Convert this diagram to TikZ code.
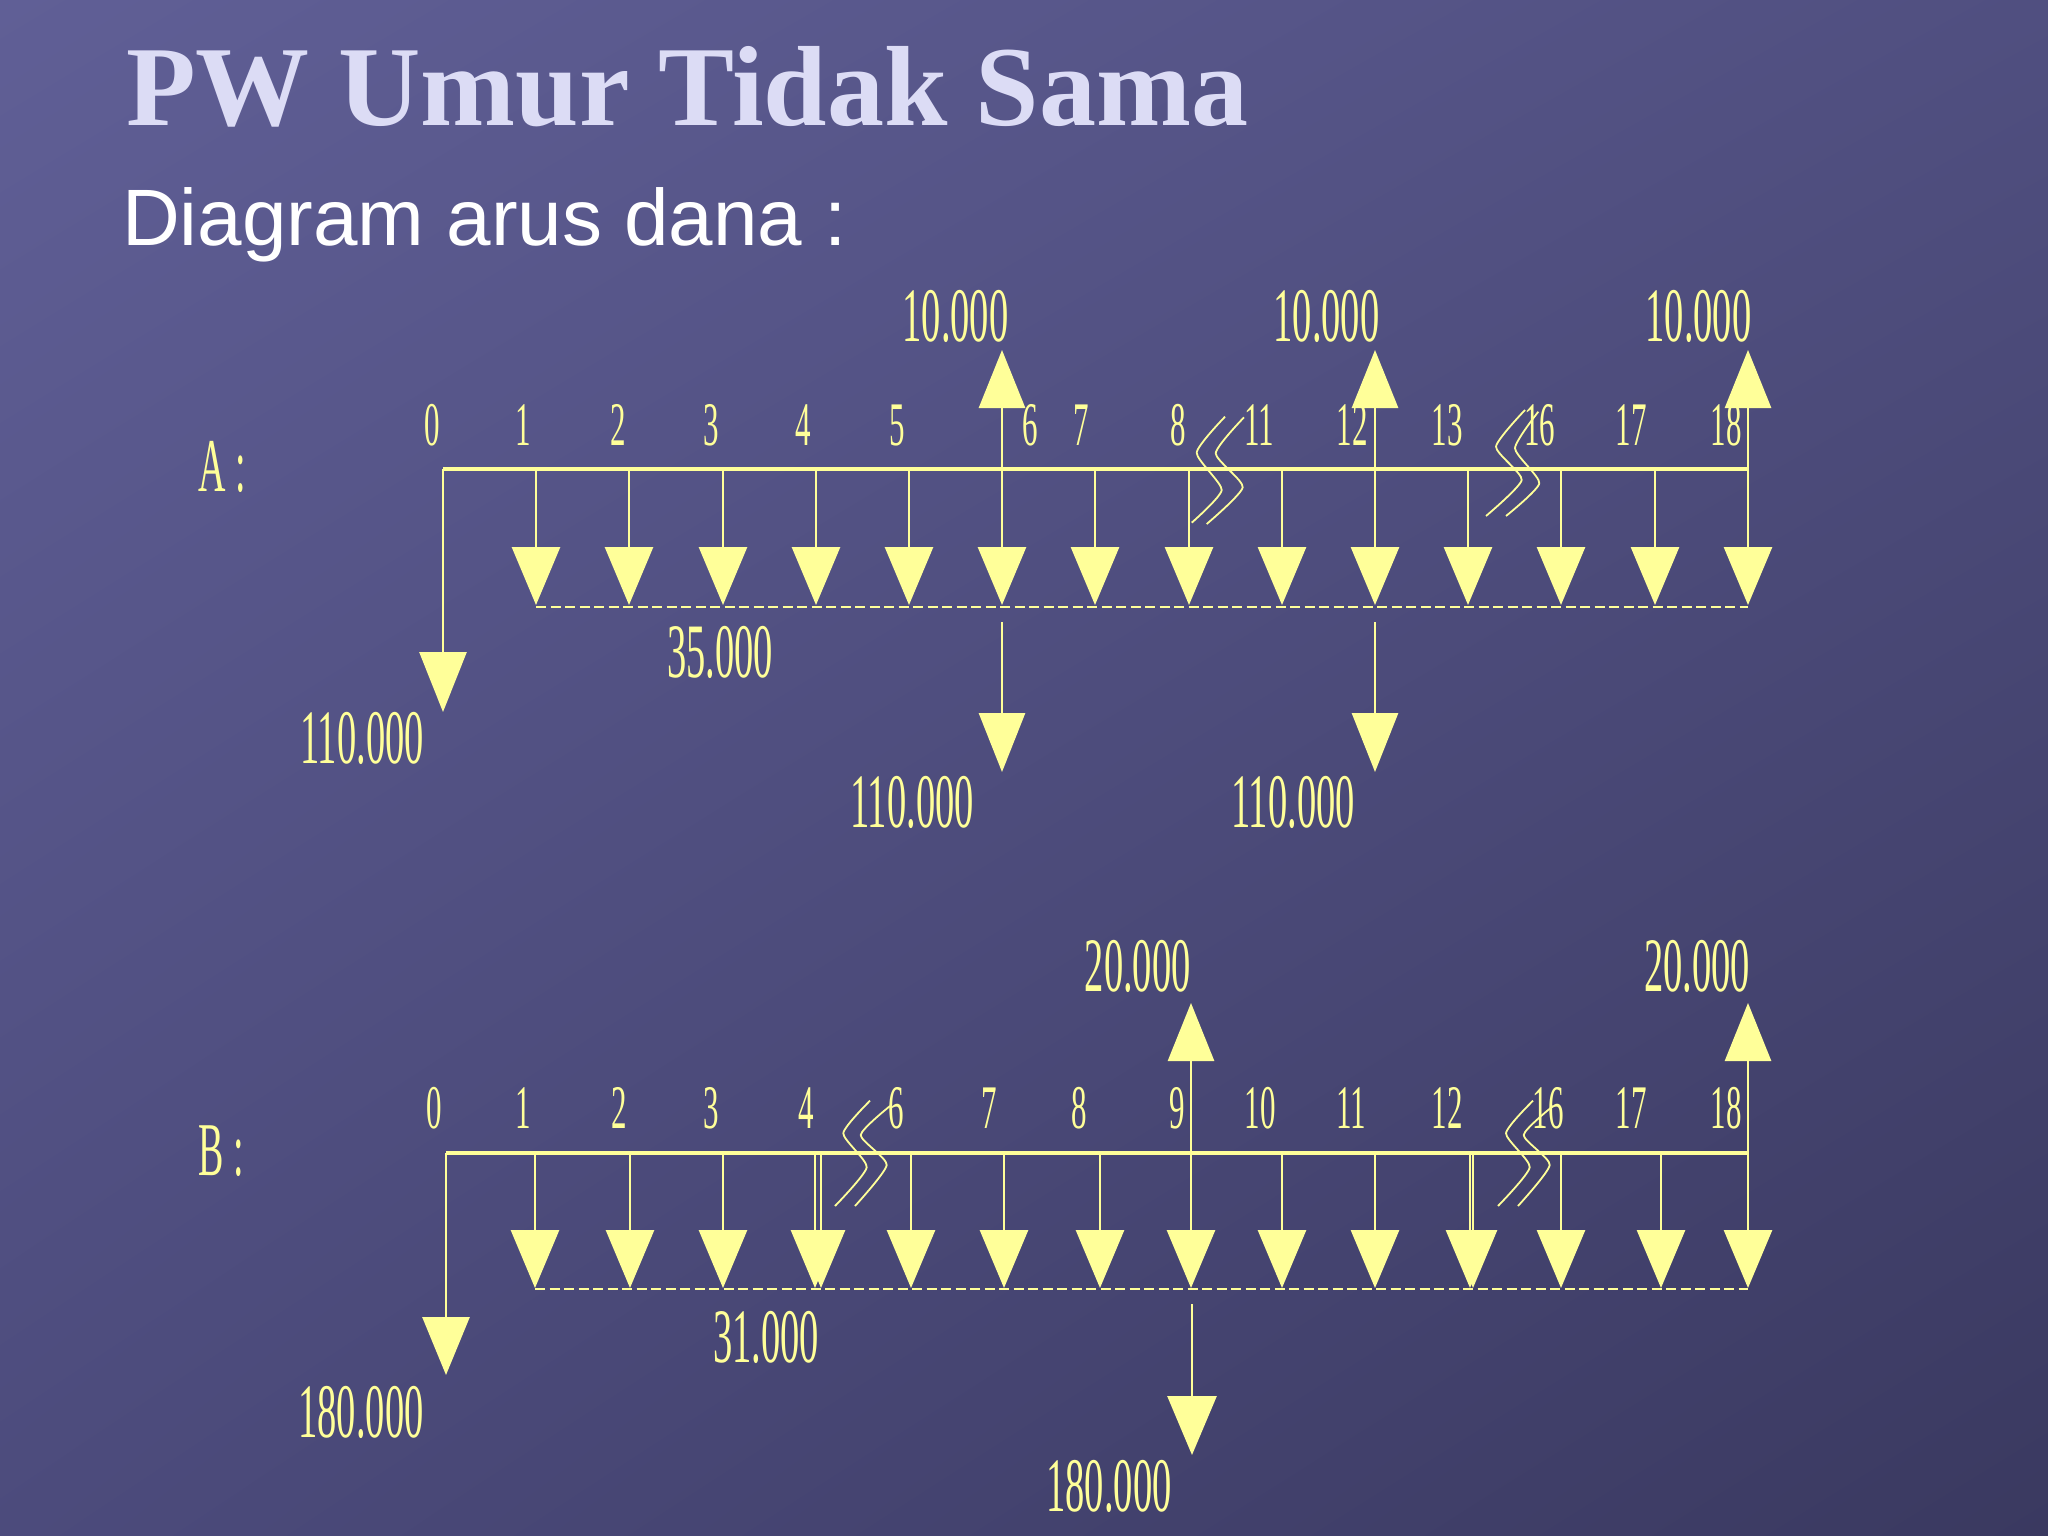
\documentclass[tikz,border=0pt]{standalone}
\usepackage{fontspec}
\setmainfont{Liberation Serif}
\newfontfamily\condfont[FakeStretch=0.5]{Liberation Serif}
\newfontfamily\sansfont{Liberation Sans}
\usetikzlibrary{arrows.meta,shadings}
\definecolor{cfyellow}{RGB}{255,255,153}
\definecolor{titlecol}{RGB}{220,220,245}
\definecolor{bgTL}{RGB}{96,95,150}
\definecolor{bgTR}{RGB}{80,79,128}
\definecolor{bgBL}{RGB}{76,75,124}
\definecolor{bgBR}{RGB}{58,57,96}
\begin{document}
\begin{tikzpicture}[x=1pt,y=-1pt,
  cfline/.style={draw=cfyellow, line width=3.2pt},
  stem/.style={draw=cfyellow, line width=2.8pt},
  downarr/.style={stem, -{Triangle[width=48pt,length=58pt]}, fill=cfyellow},
  uparr/.style={stem, -{Triangle[width=46pt,length=58pt]}, fill=cfyellow},
  dashline/.style={draw=cfyellow, line width=2.2pt, dash pattern=on 10pt off 4.5pt},
  breakline/.style={draw=cfyellow, line width=1.8pt, line join=round},
  ticklab/.style={text=cfyellow, inner sep=0pt, anchor=base, font=\condfont\fontsize{62}{62}\selectfont},
  vallab/.style={text=cfyellow, inner sep=0pt, anchor=base, font=\condfont\fontsize{77}{77}\selectfont},
  rowlab/.style={text=cfyellow, inner sep=0pt, anchor=base west, font=\condfont\fontsize{76}{76}\selectfont}
]
\useasboundingbox (0,0) rectangle (2048,1536);
\shade[upper left=bgTL, upper right=bgTR, lower left=bgBL, lower right=bgBR] (0,0) rectangle (2048,1536);

% title
\node[anchor=base west, inner sep=0pt, text=titlecol, font=\bfseries\fontsize{114}{114}\selectfont] (title) at (126,126) {PW Umur Tidak Sama};
\node[anchor=base west, inner sep=0pt, text=white, font=\sansfont\fontsize{80}{80}\selectfont] (subtitle) at (122,245) {Diagram arus dana :};

% ===================== Diagram A =====================
\node[rowlab] (labA) at (198,491.7) {A :};
\foreach \x [count=\i from 0] in {443,536,629,723,816,909,1002,1095,1189,1282,1375,1468,1561,1655,1748} {
  \coordinate (A\i) at (\x,469);
  \coordinate (Ad\i) at (\x,605);
  \coordinate (Adash\i) at (\x,607);
}
\draw[cfline] (A0) -- (A14);
\foreach \i in {1,...,14} \draw[downarr] (A\i) -- (Ad\i);
\draw[dashline] (Adash1) -- (Adash14);
% initial cost
\coordinate (A0t) at (443,712);
\draw[stem, -{Triangle[width=47pt,length=60pt]}] (A0) -- (A0t);
% salvage up arrows
\coordinate (Au5) at (1002,350);
\coordinate (Au11) at (1375,350);
\coordinate (Au14) at (1748,350);
\draw[uparr] (A6) -- (Au5);
\draw[uparr] (A10) -- (Au11);
\draw[uparr] (A14) -- (Au14);
% reinvestment arrows
\coordinate (Ar6s) at (1002,622);
\coordinate (Ar6t) at (1002,772);
\coordinate (Ar12s) at (1375,622);
\coordinate (Ar12t) at (1375,772);
\draw[stem, -{Triangle[width=46pt,length=59pt]}] (Ar6s) -- (Ar6t);
\draw[stem, -{Triangle[width=46pt,length=59pt]}] (Ar12s) -- (Ar12t);
% tick labels A
\foreach \x/\t in {432/0,523/1,618.5/2,711.5/3,803.5/4,897.6/5,1030.6/6,1081.6/7,1178/8,1259/11,1352/12,1447/13,1539.5/16,1631/17,1726/18}
  \node[ticklab] (tA\t) at (\x,445) {\t};
% value labels A
\node[vallab] (vA1) at (955.5,341.7) {10.000};
\node[vallab] (vA2) at (1326.5,341.7) {10.000};
\node[vallab] (vA3) at (1698.5,341.7) {10.000};
\node[vallab] (vA4) at (720,677) {35.000};
\node[vallab] (vA5) at (362,763) {110.000};
\node[vallab] (vA6) at (912,827) {110.000};
\node[vallab] (vA7) at (1293,827) {110.000};
% breaks A
\draw[breakline] plot[smooth, tension=0.35] coordinates {(1225,416.7) (1196.7,452.7) (1221.7,490) (1191.7,522.7)};
\draw[breakline] plot[smooth, tension=0.35] coordinates {(1244,417.3) (1215.7,453.3) (1242.7,487.3) (1206.7,524)};
\draw[breakline] plot[smooth, tension=0.35] coordinates {(1525,410) (1496,446.7) (1521.7,480) (1486,516)};
\draw[breakline] plot[smooth, tension=0.35] coordinates {(1538.3,411.7) (1515,448.3) (1539.3,483.3) (1506,516)};

% ===================== Diagram B =====================
\node[rowlab] (labB) at (198,1175) {B :};
\foreach \x [count=\i from 0] in {446,535,630,723,815,911,1004,1100,1191,1282,1375,1470,1561,1661,1748} {
  \coordinate (B\i) at (\x,1153);
  \coordinate (Bd\i) at (\x,1288);
  \coordinate (Bdash\i) at (\x,1289);
}
\coordinate (B4b) at (821,1153);
\coordinate (Bd4b) at (821,1288);
\coordinate (B11b) at (1473,1153);
\coordinate (Bd11b) at (1473,1288);
\draw[cfline] (B0) -- (B14);
\foreach \i in {1,...,14} \draw[downarr] (B\i) -- (Bd\i);
\draw[downarr] (B4b) -- (Bd4b);
\draw[downarr] (B11b) -- (Bd11b);
\draw[dashline] (Bdash1) -- (Bdash14);
% initial cost
\coordinate (B0t) at (446,1375);
\draw[stem, -{Triangle[width=47pt,length=58pt]}] (B0) -- (B0t);
% salvage
\coordinate (Bu8) at (1191,1003);
\coordinate (Bu14) at (1748,1003);
\draw[uparr] (B8) -- (Bu8);
\draw[uparr] (B14) -- (Bu14);
% reinvestment
\coordinate (Br9s) at (1192,1304);
\coordinate (Br9t) at (1192,1455);
\draw[stem, -{Triangle[width=49pt,length=59pt]}] (Br9s) -- (Br9t);
% tick labels B
\foreach \x/\t in {434/0,523/1,619/2,711.5/3,806/4,896/6,989.5/7,1079/8,1177/9,1260/10,1351/11,1447/12,1548/16,1631/17,1726/18}
  \node[ticklab] (tB\t) at (\x,1128.3) {\t};
% value labels B
\node[vallab] (vB1) at (1137.7,991) {20.000};
\node[vallab] (vB2) at (1697,991) {20.000};
\node[vallab] (vB3) at (766,1362) {31.000};
\node[vallab] (vB4) at (361,1437) {180.000};
\node[vallab] (vB5) at (1109,1511) {180.000};
% breaks B
\draw[breakline] plot[smooth, tension=0.35] coordinates {(870,1100.7) (843.3,1133.3) (866.7,1167.3) (835,1206)};
\draw[breakline] plot[smooth, tension=0.35] coordinates {(890,1106) (860.7,1135) (886.7,1165) (855,1206)};
\draw[breakline] plot[smooth, tension=0.35] coordinates {(1533,1100.7) (1506,1133.3) (1529.7,1167.3) (1498,1206)};
\draw[breakline] plot[smooth, tension=0.35] coordinates {(1553,1106) (1523.7,1135) (1549.7,1165) (1518,1206)};
\end{tikzpicture}
\end{document}
